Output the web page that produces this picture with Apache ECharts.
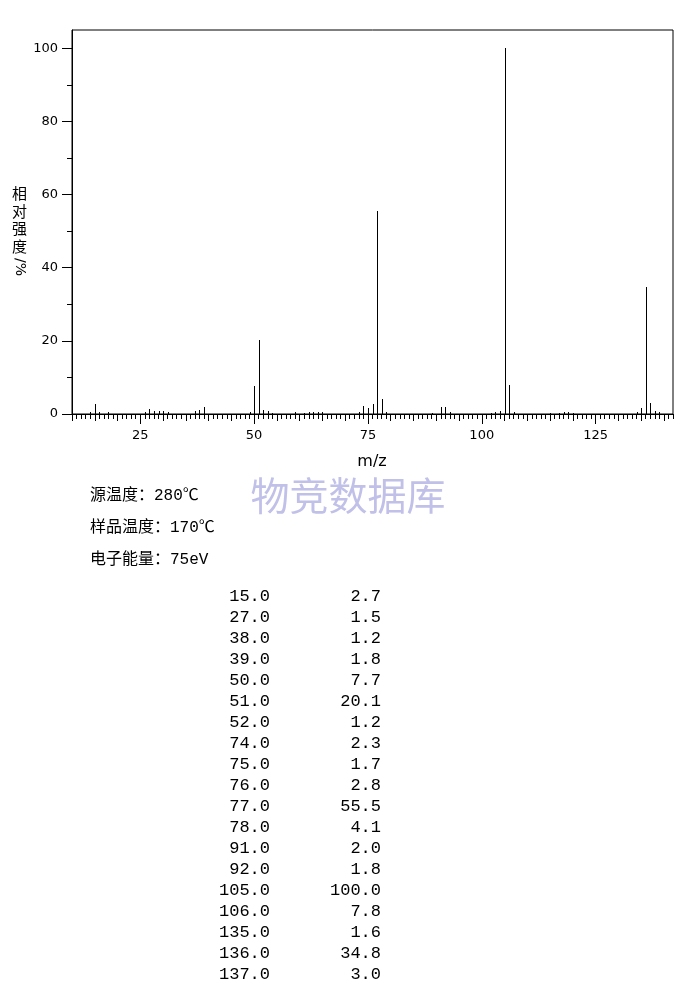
<!DOCTYPE html>
<html>
<head>
<meta charset="utf-8">
<script src="https://cdn.jsdelivr.net/npm/echarts@6/dist/echarts.min.js"></script>
<style>html,body{margin:0;padding:0;background:#fff}#c{width:696px;height:992px}</style>
</head>
<body>
<div id="c"></div>
<script>
// Listed peaks (m/z, relative intensity %)
var listedMz = [15, 27, 38, 39, 50, 51, 52, 74, 75, 76, 77, 78, 91, 92, 105, 106, 135, 136, 137];
var listedInt = [2.7, 1.5, 1.2, 1.8, 7.7, 20.1, 1.2, 2.3, 1.7, 2.8, 55.5, 4.1, 2.0, 1.8, 100.0, 7.8, 1.6, 34.8, 3.0];
// Small unlisted peaks (estimated)
var minorMz = [14, 16, 18, 26, 28, 29, 30, 31, 37, 49, 53, 54, 59, 61, 62, 63, 64, 65, 73, 79, 89, 93, 102, 103, 104, 107, 115, 117, 118, 119, 120, 134, 138, 139];
var minorInt = [0.6, 0.5, 0.5, 0.5, 0.9, 0.9, 0.8, 0.5, 0.9, 0.6, 0.8, 0.4, 0.5, 0.4, 0.5, 0.6, 0.5, 0.5, 0.6, 0.6, 0.4, 0.5, 0.4, 0.6, 0.8, 0.6, 0.4, 0.4, 0.5, 0.5, 0.4, 0.6, 0.9, 0.5];
var xLabelTicks = [25, 50, 75, 100, 125];
var yLabelTicks = [0, 20, 40, 60, 80, 100];
var yMinorTicks = [10, 30, 50, 70, 90];
var infoLines = ['源温度：280℃', '样品温度：170℃', '电子能量：75eV'];

var xMin = 10, xMax = 142;
var ticks1 = [], ticks5 = [];
for (var t = xMin; t <= xMax; t++) { ticks1.push(t); if (t % 5 === 0) ticks5.push(t); }

var peaks = [];
for (var i = 0; i < listedMz.length; i++) peaks.push([listedMz[i], listedInt[i]]);
for (var j = 0; j < minorMz.length; j++) peaks.push([minorMz[j], minorInt[j]]);

var chart = echarts.init(document.getElementById('c'), null, {renderer: 'canvas'});

var graphics = [];
// y axis name
var yName = ['相', '对', '强', '度'];
for (var k = 0; k < yName.length; k++) {
  graphics.push({type: 'text', left: 12, top: 186 + k * 17.5,
    style: {text: yName[k], font: '15px "Noto Sans CJK SC"', fill: '#000'}});
}
graphics.push({type: 'text', x: 27, y: 258, rotation: -Math.PI / 2, originX: 0, originY: 0,
  style: {text: '/%', font: '14px "DejaVu Sans"', fill: '#000', textAlign: 'left', textVerticalAlign: 'top'}});
graphics.push({type: 'text', x: 372, y: 462,
  style: {text: 'm/z', font: '16px "DejaVu Sans"', fill: '#000', textAlign: 'center', textVerticalAlign: 'middle'}});
for (var m = 0; m < infoLines.length; m++) {
  graphics.push({type: 'text', x: 90, y: 496 + m * 32,
    style: {text: infoLines[m], font: '16px "Liberation Mono", "Noto Sans CJK SC"', fill: '#000', textVerticalAlign: 'middle'}});
}
graphics.push({type: 'text', x: 348, y: 495, z: 10,
  style: {text: '物竞数据库', font: '39px "Noto Sans CJK SC"', fill: 'rgba(130,130,210,0.5)', textAlign: 'center', textVerticalAlign: 'middle'}});
for (var r = 0; r < listedMz.length; r++) {
  graphics.push({type: 'text', x: 270, y: 596 + r * 21,
    style: {text: listedMz[r].toFixed(1), font: '17px "Liberation Mono"', fill: '#000', textAlign: 'right', textVerticalAlign: 'middle'}});
  graphics.push({type: 'text', x: 381, y: 596 + r * 21,
    style: {text: listedInt[r].toFixed(1), font: '17px "Liberation Mono"', fill: '#000', textAlign: 'right', textVerticalAlign: 'middle'}});
}

var baseX = {type: 'value', min: xMin, max: xMax, position: 'bottom', splitLine: {show: false}};
chart.setOption({
  animation: false,
  backgroundColor: '#fff',
  grid: {left: 72, top: 30, right: 23, bottom: 578, show: true, borderColor: '#000', borderWidth: 1},
  xAxis: [
    Object.assign({}, baseX, {
      axisLine: {show: true, lineStyle: {color: '#000', width: 1}},
      axisTick: {show: true, customValues: ticks1, length: 5, lineStyle: {color: '#000'}},
      axisLabel: {show: true, customValues: xLabelTicks, margin: 15, color: '#000', fontSize: 13, fontFamily: 'DejaVu Sans'}
    }),
    Object.assign({}, baseX, {
      axisLine: {show: false},
      axisTick: {show: true, customValues: ticks5, length: 7, lineStyle: {color: '#000'}},
      axisLabel: {show: false}
    }),
    Object.assign({}, baseX, {
      axisLine: {show: false},
      axisTick: {show: true, customValues: xLabelTicks, length: 10, lineStyle: {color: '#000'}},
      axisLabel: {show: false}
    })
  ],
  yAxis: [
    {type: 'value', min: 0, max: 105, splitLine: {show: false},
      axisLine: {show: true, lineStyle: {color: '#000'}},
      axisTick: {show: true, customValues: yLabelTicks, length: 10, lineStyle: {color: '#000'}},
      axisLabel: {show: true, customValues: yLabelTicks, margin: 14, color: '#000', fontSize: 13, fontFamily: 'DejaVu Sans'}},
    {type: 'value', min: 0, max: 105, position: 'left', splitLine: {show: false},
      axisLine: {show: false},
      axisTick: {show: true, customValues: yMinorTicks, length: 5, lineStyle: {color: '#000'}},
      axisLabel: {show: false}}
  ],
  series: [{
    type: 'custom',
    xAxisIndex: 0, yAxisIndex: 0,
    data: peaks,
    renderItem: function (params, api) {
      var p0 = api.coord([api.value(0), 0]);
      var p1 = api.coord([api.value(0), api.value(1)]);
      var x = Math.round(p0[0]);
      var y1 = Math.round(p1[1]);
      return {type: 'rect', shape: {x: x, y: y1, width: 1, height: Math.round(p0[1]) - y1}, style: {fill: '#000'}};
    }
  }],
  graphic: graphics
});
</script>
</body>
</html>
